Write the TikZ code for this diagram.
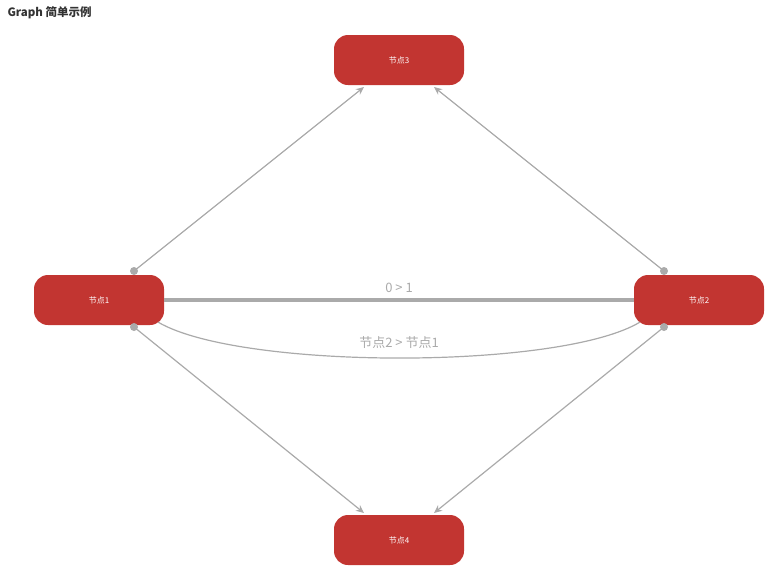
\documentclass[tikz,border=0pt]{standalone}
\usepackage{fontspec}
\setmainfont{Noto Sans CJK SC}
\usetikzlibrary{arrows.meta}
\definecolor{nred}{HTML}{C23531}
\definecolor{egray}{HTML}{AAAAAA}
\begin{document}
\begin{tikzpicture}[x=1pt,y=-1pt,
  gnode/.style={fill=nred,rounded corners=14pt,minimum width=130pt,minimum height=50pt,inner sep=0pt,text=white,font=\fontsize{8}{9}\selectfont},
  edge/.style={draw=egray,line width=1.2pt,-{Stealth[length=8pt,width=7pt]}},
  dot/.style={circle,fill=egray,inner sep=0pt,minimum size=8pt},
  elab/.style={text=egray,font=\fontsize{13}{15}\selectfont}]
\useasboundingbox (0,0) rectangle (776,574);
\node[anchor=west,font=\bfseries\fontsize{11.5}{13}\selectfont,text=black!80] (title) at (4,13) {Graph 简单示例};
\node[gnode] (n1) at (99,300) {节点1};
\node[gnode] (n2) at (699,300) {节点2};
\node[gnode] (n3) at (399,60) {节点3};
\node[gnode] (n4) at (399,540) {节点4};
\draw[egray,line width=3.5pt] (n1.east) -- (n2.west) node[midway,above=2pt,elab]{0 > 1};
\draw[egray,line width=1.2pt] (n2.south west)++(6,-3) coordinate (c2) (n1.south east)++(-6,-3) coordinate (c1);
\draw[egray,line width=1.2pt] (c2) .. controls (560,370) and (240,370) .. (c1);
\node[elab] (lab2) at (399,343) {节点2 > 节点1};
\node[dot] (d1) at (134,271) {};
\node[dot] (d2) at (664,271) {};
\node[dot] (d3) at (134,327) {};
\node[dot] (d4) at (664,327) {};
\coordinate (t3a) at (364,87);
\coordinate (t3b) at (434,87);
\coordinate (t4a) at (364,513);
\coordinate (t4b) at (434,513);
\draw[edge] (d1.center) -- (t3a);
\draw[edge] (d2.center) -- (t3b);
\draw[edge] (d3.center) -- (t4a);
\draw[edge] (d4.center) -- (t4b);
\end{tikzpicture}
\end{document}
